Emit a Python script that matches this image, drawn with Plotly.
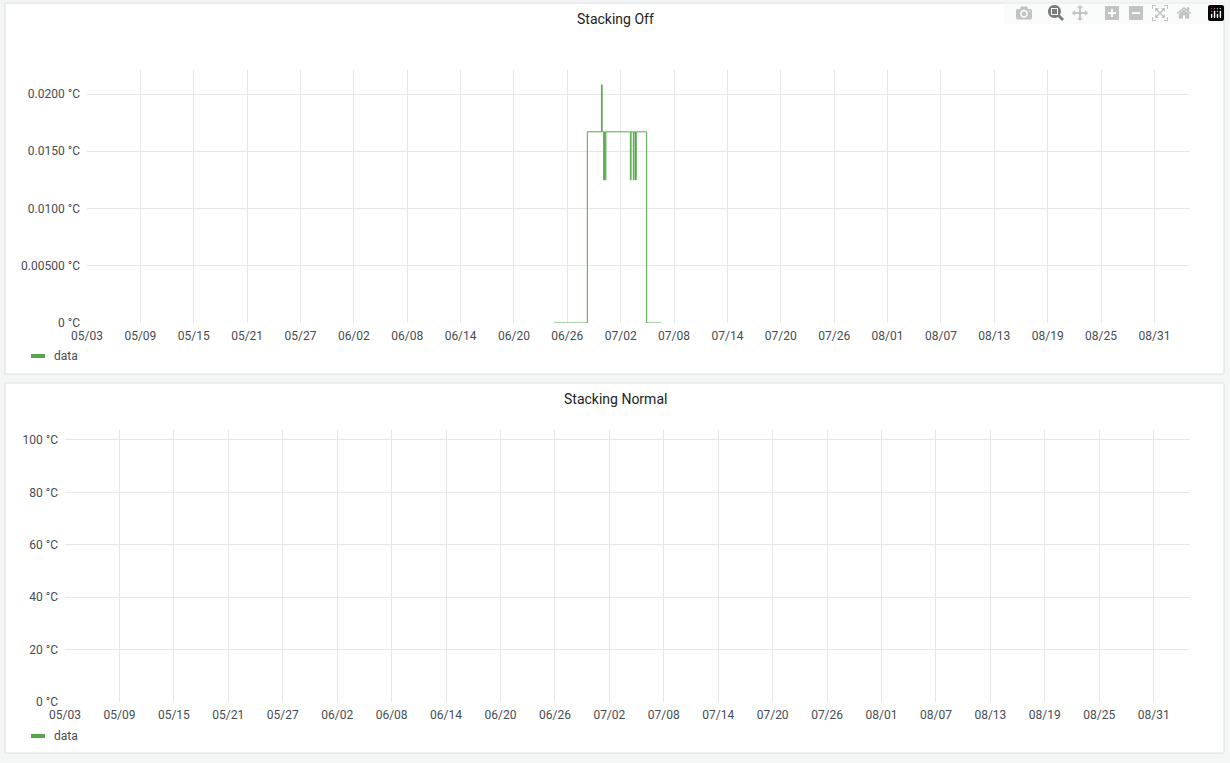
import plotly.graph_objects as go

times = ["2023-06-24 12:00", "2023-06-28 06:00", "2023-06-29 18:00", "2023-06-29 20:00",
         "2023-06-29 22:00", "2023-06-30 02:00", "2023-06-30 04:00", "2023-06-30 06:00",
         "2023-06-30 08:00", "2023-07-03 02:00", "2023-07-03 04:00", "2023-07-03 10:00",
         "2023-07-03 12:00", "2023-07-03 16:00", "2023-07-03 18:00", "2023-07-04 22:00",
         "2023-07-06 14:00"]
values = [0, 0.0167, 0.0167, 0.0208, 0.0167, 0.0125, 0.0167, 0.0125, 0.0167,
          0.0125, 0.0167, 0.0125, 0.0167, 0.0125, 0.0167, 0, 0]
top_ticks = [0, 0.005, 0.01, 0.015, 0.02]
top_labels = ["0 °C", "0.00500 °C", "0.0100 °C", "0.0150 °C", "0.0200 °C"]
bottom_ticks = [0, 20, 40, 60, 80, 100]
bottom_labels = ["%d °C" % v for v in bottom_ticks]
xrange_ = ["2023-05-03", "2023-09-04"]

W, H = 1230, 763
def px(x): return x / W
def py(y): return 1 - y / H

green = "#56a64b"
grid = "#e6e6e6"
font = dict(family="Roboto, sans-serif", size=12, color="#464c54")

fig = go.Figure()
fig.add_trace(go.Scatter(x=times, y=values, mode="lines", line=dict(color=green, width=1, shape="hv"),
                         xaxis="x", yaxis="y", showlegend=False))
fig.add_trace(go.Scatter(x=[], y=[], mode="lines", line=dict(color=green, width=1),
                         xaxis="x2", yaxis="y2", showlegend=False))

xcommon = dict(type="date", range=xrange_, tick0="2023-05-03", dtick=6 * 86400000, tickformat="%m/%d",
               showgrid=True, gridcolor=grid, zeroline=False, showline=False, ticks="",
               tickfont=font, fixedrange=True, automargin=False, ticklabelstandoff=4)
ycommon = dict(showgrid=True, gridcolor=grid, zeroline=False, tickfont=font, ticks="",
               automargin=False, ticklabelstandoff=6)
fig.update_layout(
    width=W, height=H, margin=dict(l=0, r=0, t=0, b=0, autoexpand=False),
    paper_bgcolor="#f4f5f5", plot_bgcolor="white", font=font,
    xaxis=dict(xcommon, domain=[px(87), px(1190)], anchor="y"),
    yaxis=dict(ycommon, domain=[py(323), py(70)], range=[0, 0.0221], tickvals=top_ticks,
               ticktext=top_labels, anchor="x"),
    xaxis2=dict(xcommon, domain=[px(65), px(1190)], anchor="y2"),
    yaxis2=dict(ycommon, domain=[py(702), py(430)], range=[0, 103.8], tickvals=bottom_ticks,
                ticktext=bottom_labels, anchor="x2"),
)

shapes = []
for y0, y1 in [(3, 374), (383, 753)]:
    shapes.append(dict(type="rect", xref="paper", yref="paper", x0=px(5), x1=px(1224), y0=py(y1), y1=py(y0),
                       fillcolor="white", line=dict(color="#dcdee1", width=1), layer="below"))
for ly in [356, 736]:
    shapes.append(dict(type="line", xref="paper", yref="paper", x0=px(31), x1=px(45), y0=py(ly), y1=py(ly),
                       line=dict(color=green, width=4)))
fig.update_layout(shapes=shapes)

ann = []
for text, y in [("Stacking Off", 19), ("Stacking Normal", 399)]:
    ann.append(dict(text=text, x=0.5, y=py(y), xref="paper", yref="paper", showarrow=False,
                    font=dict(family="Roboto, sans-serif", size=14, color="#222"), yanchor="middle"))
for y in [356, 736]:
    ann.append(dict(text="data", x=px(52), y=py(y), xref="paper", yref="paper", showarrow=False,
                    xanchor="left", yanchor="middle", font=font))
fig.update_layout(annotations=ann)

fig.write_html("out.html", post_script="document.body.style.margin='0';")
